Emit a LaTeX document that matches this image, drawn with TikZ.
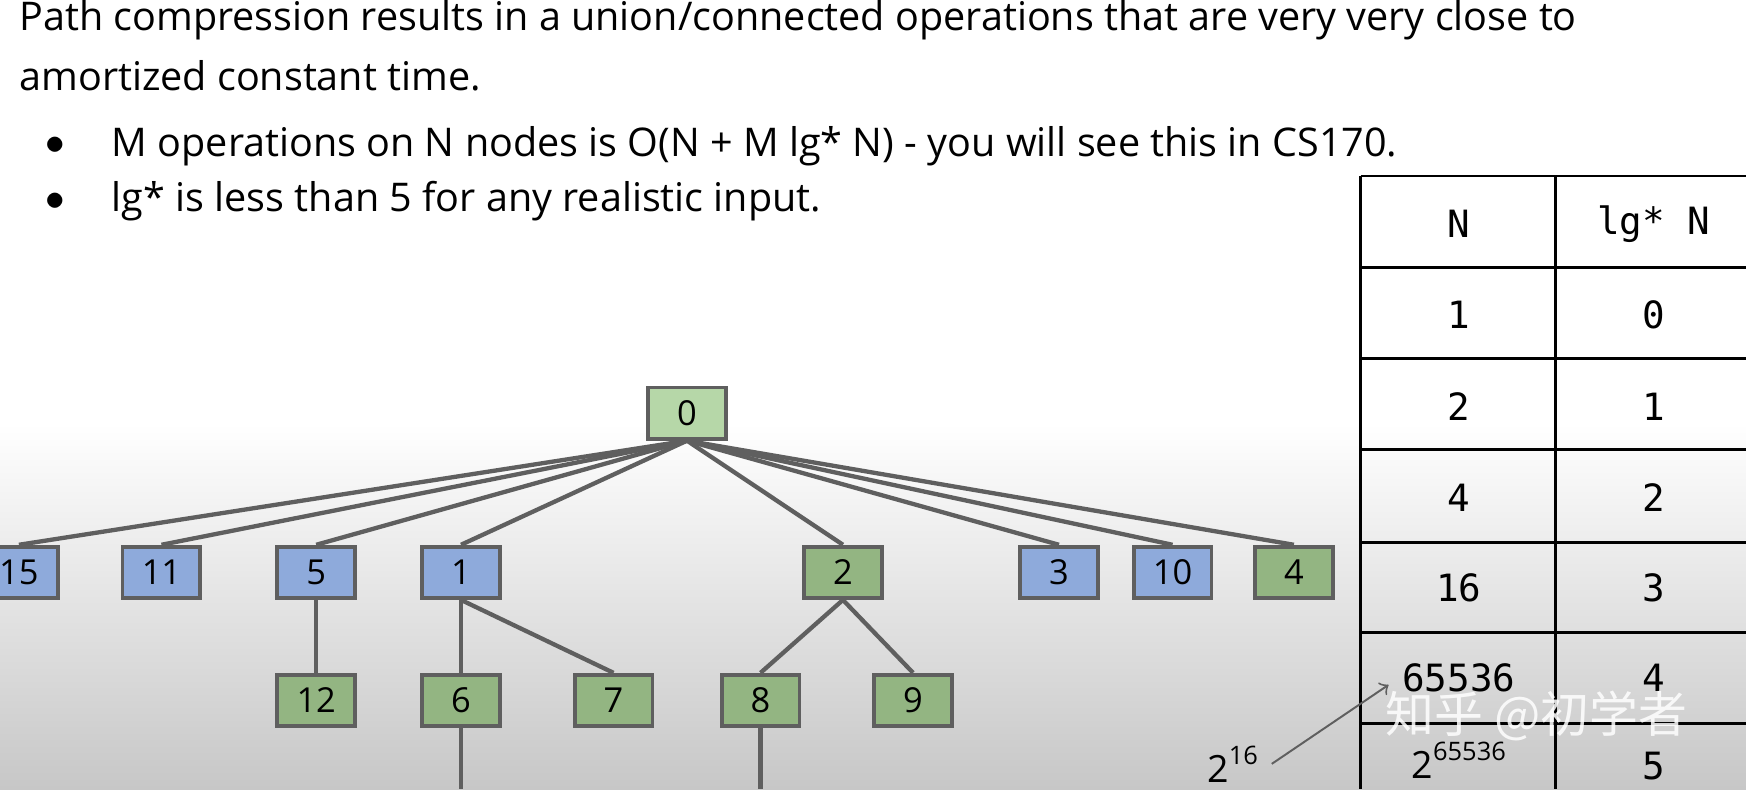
\documentclass[tikz,border=0pt]{standalone}
\usepackage{fontspec}
\setmainfont{Open Sans}
\newfontfamily\monofont{DejaVu Sans Mono}
\newfontfamily\cjkfont{Noto Sans CJK SC}
\usetikzlibrary{positioning,calc}
\definecolor{leafblue}{RGB}{142,170,219}
\definecolor{leafgreen}{RGB}{147,181,130}
\definecolor{rootgreen}{RGB}{182,215,168}
\definecolor{edgegray}{RGB}{95,95,95}
\tikzset{
  box/.style={draw=edgegray, line width=1pt, minimum width=7mm, minimum height=4.6mm, inner sep=0pt, font=\fontsize{8.8}{10}\selectfont},
  bluebox/.style={box, fill=leafblue},
  greenbox/.style={box, fill=leafgreen},
  link/.style={draw=edgegray, line width=1.1pt},
  body/.style={anchor=west, font=\fontsize{10.1}{12}\selectfont},
  cell/.style={font=\monofont\fontsize{9.6}{10}\selectfont}
}
\newcommand{\expo}[1]{\raisebox{0.9ex}{\fontsize{6.5}{7}\selectfont #1}}
\begin{document}
\begin{tikzpicture}[x=0.1mm,y=-0.1mm]
\useasboundingbox (0,0) rectangle (1568,709);
% background
\fill[white] (0,0) rectangle (1568,380);
\shade[top color=white, bottom color=black!22] (0,380) rectangle (1568,709);

% text
\node[body] (line1) at (5,18) {Path compression results in a union/connected operations that are very very close to};
\node[body] (line2) at (5,68) {amortized constant time.};
\node[body] (dot1) at (28,131) {$\bullet$};
\node[body] (item1) at (88,131) {M operations on N nodes is O(N + M lg* N) - you will see this in CS170.};
\node[body] (dot2) at (28,181) {$\bullet$};
\node[body] (item2) at (88,181) {lg* is less than 5 for any realistic input.};

% tree
\node[box, fill=rootgreen] (n0) at (617,371) {0};
\node[bluebox] (n15) at (17,514) {15};
\node[bluebox] (n11) at (145,514) {11};
\node[bluebox] (n5) at (284,514) {5};
\node[bluebox] (n1) at (414,514) {1};
\node[greenbox] (n2) at (757,514) {2};
\node[bluebox] (n3) at (951,514) {3};
\node[bluebox] (n10) at (1053,514) {10};
\node[greenbox] (n4) at (1162,514) {4};
\node[greenbox] (n12) at (284,629) {12};
\node[greenbox] (n6) at (414,629) {6};
\node[greenbox] (n7) at (551,629) {7};
\node[greenbox] (n8) at (683,629) {8};
\node[greenbox] (n9) at (820,629) {9};
\foreach \c in {n15,n11,n5,n1,n2,n3,n10,n4}
  \draw[link] (n0.south) -- (\c.north);
\draw[link] (n5.south) -- (n12.north);
\draw[link] (n1.south) -- (n6.north);
\draw[link] (n1.south) -- (n7.north);
\draw[link] (n2.south) -- (n8.north);
\draw[link] (n2.south) -- (n9.north);
\coordinate (e6) at (414,709);
\coordinate (e8) at (683,709);
\draw[link] (n6.south) -- (e6);
\draw[link] (n8.south) -- (e8);

% table
\foreach \y in {158,240,322,404,487,568,650}
  \draw[line width=0.7pt] (1222,\y) -- (1568,\y);
\draw[line width=0.7pt] (1222,158) -- (1222,709);
\draw[line width=0.7pt] (1397,158) -- (1397,709);
\node[cell] (h1) at (1310,201) {N};
\node[cell] (h2) at (1485,201) {lg* N};
\foreach \a/\b/\y in {1/0/283, 2/1/365, 4/2/447, 16/3/528, 65536/4/609}{
  \node[cell] at (1310,\y) {\a};
  \node[cell] at (1485,\y) {\b};
}
\node[font=\fontsize{9.6}{10}\selectfont] (big) at (1310,683) {2\expo{65536}};
\node[cell] (five) at (1485,688) {5};
\node[font=\fontsize{9.6}{10}\selectfont] (p16) at (1107,686) {2\expo{16}};
\coordinate (tip) at (1247,615);
\draw[edgegray, line width=0.5pt, ->] (p16.east) -- (tip);

% watermark
\node[font=\cjkfont\fontsize{12.5}{13}\selectfont, text=white, opacity=0.85] (mark) at (1380,643) {知乎 @初学者};
\end{tikzpicture}
\end{document}
